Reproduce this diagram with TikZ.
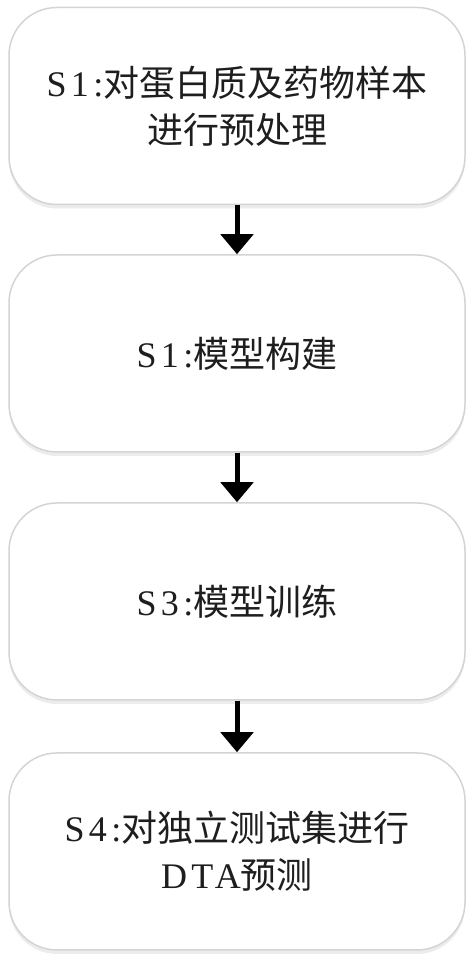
\documentclass[tikz,border=0pt]{standalone}
\usepackage{fontspec}
\setmainfont{Liberation Serif}[LetterSpace=12]
\newfontfamily\cjk{Noto Sans CJK SC}
\usetikzlibrary{shadows,arrows.meta}
\definecolor{boxline}{HTML}{D4D4D4}
\definecolor{txt}{HTML}{1E1E1E}
\tikzset{
  stepbox/.style={draw=boxline, line width=1.5pt, fill=white, rounded corners=48pt,
    minimum width=456pt, minimum height=197pt, align=center, text=txt,
    font=\fontsize{36pt}{47pt}\selectfont,
    drop shadow={shadow xshift=0pt, shadow yshift=-4pt, opacity=0.12, fill=black!60}},
  flow/.style={line width=5pt, -{Triangle[width=32pt,length=20pt]}, black}
}
\begin{document}
\begin{tikzpicture}[x=1pt,y=1pt]
\useasboundingbox (0,0) rectangle (474,963);
\node[stepbox] (s1) at (237,857) {S1:{\cjk 对蛋白质及药物样本}\\{\cjk 进行预处理}};
\node[stepbox] (s2) at (237,609.5) {S1:{\cjk 模型构建}};
\node[stepbox] (s3) at (237,361.5) {S3:{\cjk 模型训练}};
\node[stepbox] (s4) at (237,111.5) {S4:{\cjk 对独立测试集进行}\\DTA{\cjk 预测}};
\draw[flow] (s1.south) -- (s2.north);
\draw[flow] (s2.south) -- (s3.north);
\draw[flow] (s3.south) -- (s4.north);
\end{tikzpicture}
\end{document}
